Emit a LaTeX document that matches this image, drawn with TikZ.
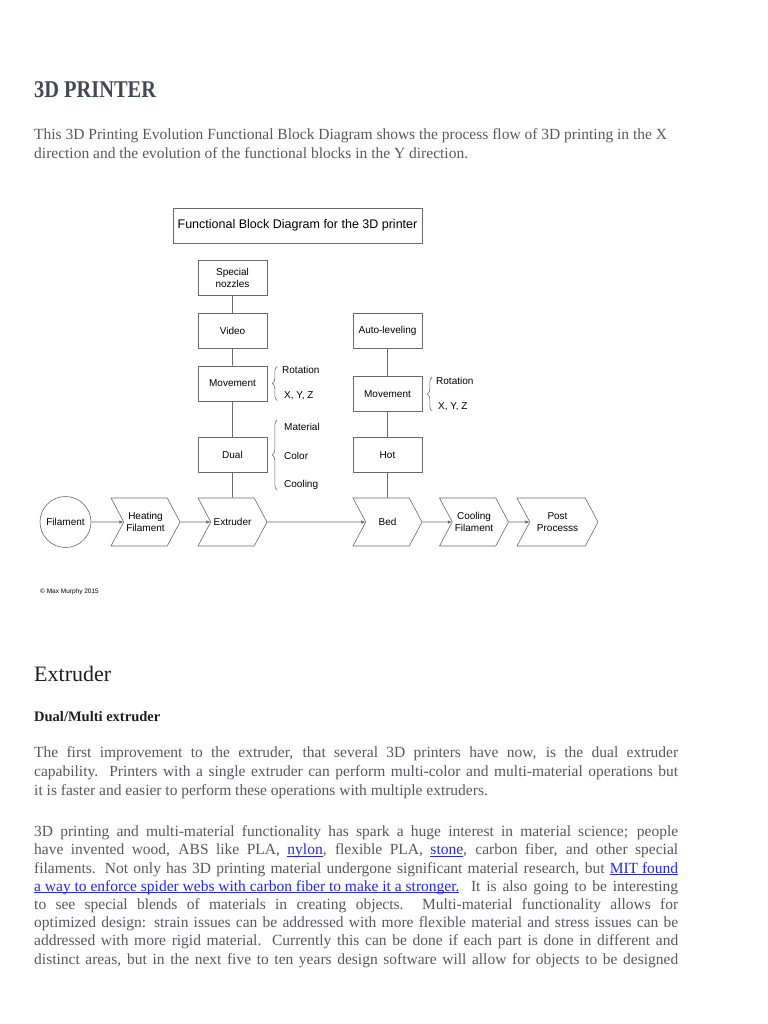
\documentclass[tikz,border=0pt]{standalone}
\usepackage{fontspec}
\setmainfont{Liberation Serif}
\setsansfont{Liberation Sans}
\newfontfamily\titlefont[FakeStretch=0.85]{Liberation Serif}
\usetikzlibrary{shapes.symbols,decorations.pathreplacing,arrows.meta}
\definecolor{bodygray}{HTML}{58585E}
\definecolor{titlegray}{HTML}{434855}
\definecolor{linkblue}{HTML}{2626E8}
\definecolor{linegray}{HTML}{6A6A6A}
\newcommand{\jl}[1]{\makebox[644bp][s]{#1}}
\newcommand{\lnk}[1]{\textcolor{linkblue}{\underline{\smash{#1}}}}

\begin{document}
\begin{tikzpicture}[x=1bp,y=-1bp,
    blk/.style={draw=linegray, line width=0.6bp, minimum width=69bp, minimum height=35bp, inner sep=1bp, align=center, font=\sffamily\fontsize{10bp}{11.5bp}\selectfont},
    chev/.style={draw=linegray, line width=0.6bp, shape=signal, signal to=east, signal from=west, signal pointer angle=124, minimum width=69bp, minimum height=48bp, inner sep=1bp, align=center, font=\sffamily\fontsize{10bp}{11.5bp}\selectfont},
    lbl/.style={anchor=west, inner sep=0pt, font=\sffamily\fontsize{10bp}{12bp}\selectfont},
    conn/.style={draw=linegray, line width=0.6bp},
    flow/.style={conn, -{Latex[length=4bp,width=3.5bp]}},
    brc/.style={draw=linegray, line width=0.6bp, decorate, decoration={brace, amplitude=5bp}},
    body/.style={anchor=base west, inner sep=0pt, text=bodygray, align=left, font=\fontsize{15.5bp}{18.5bp}\selectfont}
  ]
  \fill[white] (0,0) rectangle (768,1024);
  \useasboundingbox (0,0) rectangle (768,1024);

  \node[anchor=base west, inner sep=0pt, text=titlegray, font=\titlefont\bfseries\fontsize{24bp}{24bp}\selectfont] (pagetitle) at (34,97) {3D PRINTER};
  \node[body, font=\fontsize{15.5bp}{19bp}\selectfont] (intro) at (34,158) {This 3D Printing Evolution Functional Block Diagram shows the process flow of 3D printing in the X\\
    direction and the evolution of the functional blocks in the Y direction.};

  \node[blk, minimum width=249bp, font=\sffamily\fontsize{12.5bp}{14bp}\selectfont] (diatitle) at (297.5,225.5) {Functional Block Diagram for the 3D printer};

  \node[blk] (nozzles) at (232.5,278) {Special\\nozzles};
  \node[blk] (video) at (232.5,331) {Video};
  \node[blk] (movel) at (232.5,383.5) {Movement};
  \node[blk] (dual) at (232.5,455) {Dual};
  \node[blk] (autolvl) at (387.5,331) {Auto-leveling};
  \node[blk] (mover) at (387.5,394) {Movement};
  \node[blk] (hot) at (387.5,455) {Hot};

  \node[draw=linegray, line width=0.6bp, circle, minimum size=51bp, inner sep=0pt, font=\sffamily\fontsize{10bp}{11.5bp}\selectfont] (filament) at (65.5,522) {Filament};
  \node[chev] (heating) at (145.5,522) {Heating\\Filament};
  \node[chev] (extruder) at (232.5,522) {Extruder};
  \node[chev] (bed) at (387.5,522) {Bed};
  \node[chev] (cooling) at (474,522) {Cooling\\Filament};
  \node[chev, minimum width=81bp] (post) at (557.5,522) {Post\\Processs};

  \draw[conn] (nozzles) -- (video) -- (movel) -- (dual) -- (extruder);
  \draw[conn] (autolvl) -- (mover) -- (hot) -- (bed);
  \draw[flow] (filament) -- (heating);
  \draw[flow] (heating) -- (extruder);
  \draw[flow] (extruder) -- (bed);
  \draw[flow] (bed) -- (cooling);
  \draw[flow] (cooling) -- (post);

  \draw[brc] ([shift={(10,17)}]movel.east) -- ([shift={(10,-17)}]movel.east);
  \draw[brc] ([shift={(10,35)}]dual.east) -- ([shift={(10,-35)}]dual.east);
  \draw[brc] ([shift={(10,17)}]mover.east) -- ([shift={(10,-17)}]mover.east);
  \node[lbl] (rotl) at (282,370) {Rotation};
  \node[lbl] (xyzl) at (284,396) {X, Y, Z};
  \node[lbl] (material) at (284,427) {Material};
  \node[lbl] (color) at (284,456) {Color};
  \node[lbl] (coolingl) at (284,485) {Cooling};
  \node[lbl] (rotr) at (436,381) {Rotation};
  \node[lbl] (xyzr) at (438,407) {X, Y, Z};

  \node[anchor=west, inner sep=0pt, font=\sffamily\fontsize{6.5bp}{7bp}\selectfont] (copyr) at (40,592) {© Max Murphy 2015};

  \node[anchor=base west, inner sep=0pt, text=black!88, font=\fontsize{22bp}{22bp}\selectfont] (sechead) at (34,681) {Extruder};
  \node[anchor=base west, inner sep=0pt, text=black!88, font=\bfseries\fontsize{14.5bp}{16bp}\selectfont] (subhead) at (34,721) {Dual/Multi extruder};

  \node[body, font=\fontsize{15.5bp}{19bp}\selectfont] (para1) at (34,795) {\jl{The first improvement to the extruder, that several 3D printers have now, is the dual extruder}\\
    \jl{capability.\ \ Printers with a single extruder can perform multi-color and multi-material operations but}\\
    it is faster and easier to perform these operations with multiple extruders.};

  \node[body, font=\fontsize{15.5bp}{18.2bp}\selectfont] (para2) at (34,964) {\jl{3D printing and multi-material functionality has spark a huge interest in material science; people}\\
    \jl{have invented wood, ABS like PLA, \lnk{nylon}, flexible PLA, \lnk{stone}, carbon fiber, and other special}\\
    \jl{filaments. Not only has 3D printing material undergone significant material research, but \lnk{MIT found}}\\
    \jl{\lnk{a way to enforce spider webs with carbon fiber to make it a stronger.}\ \ It is also going to be interesting}\\
    \jl{to see special blends of materials in creating objects.\ \ Multi-material functionality allows for}\\
    \jl{optimized design: strain issues can be addressed with more flexible material and stress issues can be}\\
    \jl{addressed with more rigid material. Currently this can be done if each part is done in different and}\\
    \jl{distinct areas, but in the next five to ten years design software will allow for objects to be designed}};
\end{tikzpicture}
\end{document}
